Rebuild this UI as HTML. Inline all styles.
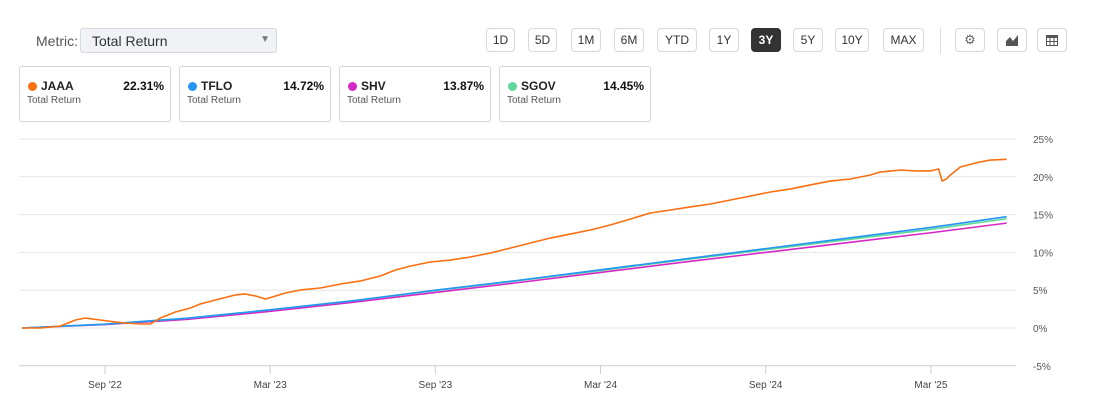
<!DOCTYPE html>
<html><head><meta charset="utf-8"><style>
body{margin:0;width:1098px;height:414px;background:#fff;font-family:"Liberation Sans",sans-serif;position:relative;overflow:hidden}
.abs{position:absolute}
.btn{position:absolute;top:28px;height:24px;border:1px solid #d8d8d8;border-radius:4px;font-size:12px;color:#333;display:flex;align-items:center;justify-content:center;box-sizing:border-box;background:#fff}
.card{position:absolute;top:66px;width:152px;height:56px;border:1px solid #d4d4d4;border-radius:3px;box-sizing:border-box}
.card .dot{position:absolute;left:8px;top:15px;width:9px;height:9px;border-radius:50%}
.card .nm{position:absolute;left:21px;top:12px;font-size:12px;font-weight:bold;color:#222}
.card .vl{position:absolute;right:6px;top:12px;font-size:12px;font-weight:bold;color:#111}
.card .sb{position:absolute;left:7px;top:28px;font-size:10px;color:#555}
</style></head><body>
<div class="abs" style="left:36px;top:33px;font-size:14px;color:#555">Metric:</div>
<div class="abs" style="left:80px;top:28px;width:197px;height:25px;border:1px solid #d6d9de;border-radius:3px;background:#f1f2f5;box-sizing:border-box">
<span style="position:absolute;left:11px;top:4px;font-size:14px;color:#333">Total Return</span>
<span style="position:absolute;right:6px;top:5px;font-size:10px;color:#777">▼</span></div>
<div class="btn" style="left:486px;width:29px">1D</div>
<div class="btn" style="left:528px;width:29px">5D</div>
<div class="btn" style="left:571px;width:30px">1M</div>
<div class="btn" style="left:614px;width:30px">6M</div>
<div class="btn" style="left:657px;width:40px">YTD</div>
<div class="btn" style="left:709px;width:30px">1Y</div>
<div class="btn" style="left:751px;width:30px;background:#333;border-color:#333;color:#fff;font-weight:bold">3Y</div>
<div class="btn" style="left:793px;width:30px">5Y</div>
<div class="btn" style="left:835px;width:34px">10Y</div>
<div class="btn" style="left:883px;width:41px">MAX</div>
<div class="abs" style="left:940px;top:28px;width:1px;height:26px;background:#ddd"></div>
<div class="btn" style="left:955px;width:30px;font-size:13px;color:#666">⚙</div>
<div class="btn" style="left:997px;width:30px"><svg width="12" height="11"><path d="M0 11 L0 6 L4 2 L7 6 L12 0 L12 11Z" fill="#555"/></svg></div>
<div class="btn" style="left:1037px;width:30px"><svg width="12" height="11"><rect x="0.5" y="0.5" width="11" height="10" fill="none" stroke="#555"/><rect x="0" y="0" width="12" height="3" fill="#555"/><path d="M4 3V11M8 3V11M0 6.5H12" stroke="#555"/></svg></div>

<div class="card" style="left:19px"><div class="dot" style="background:#fa6f0f"></div><div class="nm">JAAA</div><div class="vl">22.31%</div><div class="sb">Total Return</div></div>
<div class="card" style="left:179px"><div class="dot" style="background:#2196f3"></div><div class="nm">TFLO</div><div class="vl">14.72%</div><div class="sb">Total Return</div></div>
<div class="card" style="left:339px"><div class="dot" style="background:#d627c6"></div><div class="nm">SHV</div><div class="vl">13.87%</div><div class="sb">Total Return</div></div>
<div class="card" style="left:499px"><div class="dot" style="background:#5fd69a"></div><div class="nm">SGOV</div><div class="vl">14.45%</div><div class="sb">Total Return</div></div>

<svg id="chart" class="abs" style="left:0;top:0" width="1098" height="414"></svg>
<script>
const yTicks=[-5,0,5,10,15,20,25];
const xTickLabels=["Sep '22","Mar '23","Sep '23","Mar '24","Sep '24","Mar '25"];
const xTickMonths=[3,9,15,21,27,33];
const quarterMonths=[0,3,6,9,12,15,18,21,24,27,30,33,35.75];
const tfloValues=[0,0.5,1.3,2.4,3.6,5.0,6.3,7.7,9.1,10.5,11.9,13.3,14.72];
const sgovValues=[0,0.5,1.3,2.4,3.6,4.95,6.25,7.6,9.0,10.35,11.7,13.05,14.45];
const shvValues=[0,0.45,1.15,2.2,3.4,4.7,6.0,7.35,8.7,10.0,11.3,12.6,13.87];
const jaaaMonths=[0,0.66,1.38,1.93,2.29,2.83,3.38,3.74,4.29,4.65,5.01,5.56,6.1,6.46,7.01,7.73,8.1,8.47,8.83,9.08,9.55,10.1,10.82,11.56,12.28,13.0,13.55,14.1,14.82,15.55,16.27,17.0,17.73,18.45,19.18,19.9,20.63,21.35,22.09,22.81,23.54,24.26,24.99,25.72,26.45,27.17,27.9,28.62,29.34,30.08,30.8,31.16,31.9,32.43,32.98,33.28,33.41,33.56,33.71,34.07,34.62,35.16,35.75];
const jaaaValues=[0,0,0.26,1.06,1.32,1.06,0.79,0.66,0.53,0.53,1.32,2.12,2.65,3.17,3.7,4.37,4.5,4.23,3.84,4.1,4.63,5.03,5.29,5.82,6.22,6.88,7.67,8.2,8.73,8.99,9.39,9.92,10.58,11.24,11.9,12.43,12.96,13.62,14.42,15.21,15.61,16.01,16.4,16.93,17.46,17.99,18.39,18.92,19.44,19.71,20.24,20.63,20.9,20.77,20.77,21.03,19.44,19.71,20.24,21.3,21.83,22.22,22.31];
const NS="http://www.w3.org/2000/svg",svg=document.getElementById('chart');
const xS=m=>22.4+m*27.53, yS=v=>328-v*7.56;
function mk(t,a){const e=document.createElementNS(NS,t);for(const k in a)e.setAttribute(k,a[k]);svg.appendChild(e);return e;}
yTicks.forEach(v=>{
 const l=mk('line',{x1:19,x2:1016,y1:yS(v),y2:yS(v),stroke:v===-5?'#ccc':'#e6e6e6','stroke-width':1});
 
 
 const t=mk('text',{x:1033,y:yS(v)+4,'font-size':10,fill:'#555','font-family':'Liberation Sans, sans-serif'});
 t.textContent=v+'%';
 
 
});
xTickMonths.forEach((m,i)=>{
 const l=mk('line',{x1:xS(m),x2:xS(m),y1:366,y2:374,stroke:'#ccc'});
 
 
 const t=mk('text',{x:xS(m),y:388,'font-size':10,fill:'#444','text-anchor':'middle','font-family':'Liberation Sans, sans-serif'});
 t.textContent=xTickLabels[i];
 
 
});
function line(ms,vs,c,name){
 const p=mk('polyline',{points:ms.map((m,i)=>xS(m)+','+yS(vs[i])).join(' '),fill:'none',stroke:c,'stroke-width':1.6,'stroke-linejoin':'round'});
 
 
}
line(quarterMonths,shvValues,'#d627c6','shv-line');
line(quarterMonths,sgovValues,'#5fd69a','sgov-line');
line(quarterMonths,tfloValues,'#2196f3','tflo-line');
line(jaaaMonths,jaaaValues,'#fa6f0f','jaaa-line');
</script>
</body></html>
